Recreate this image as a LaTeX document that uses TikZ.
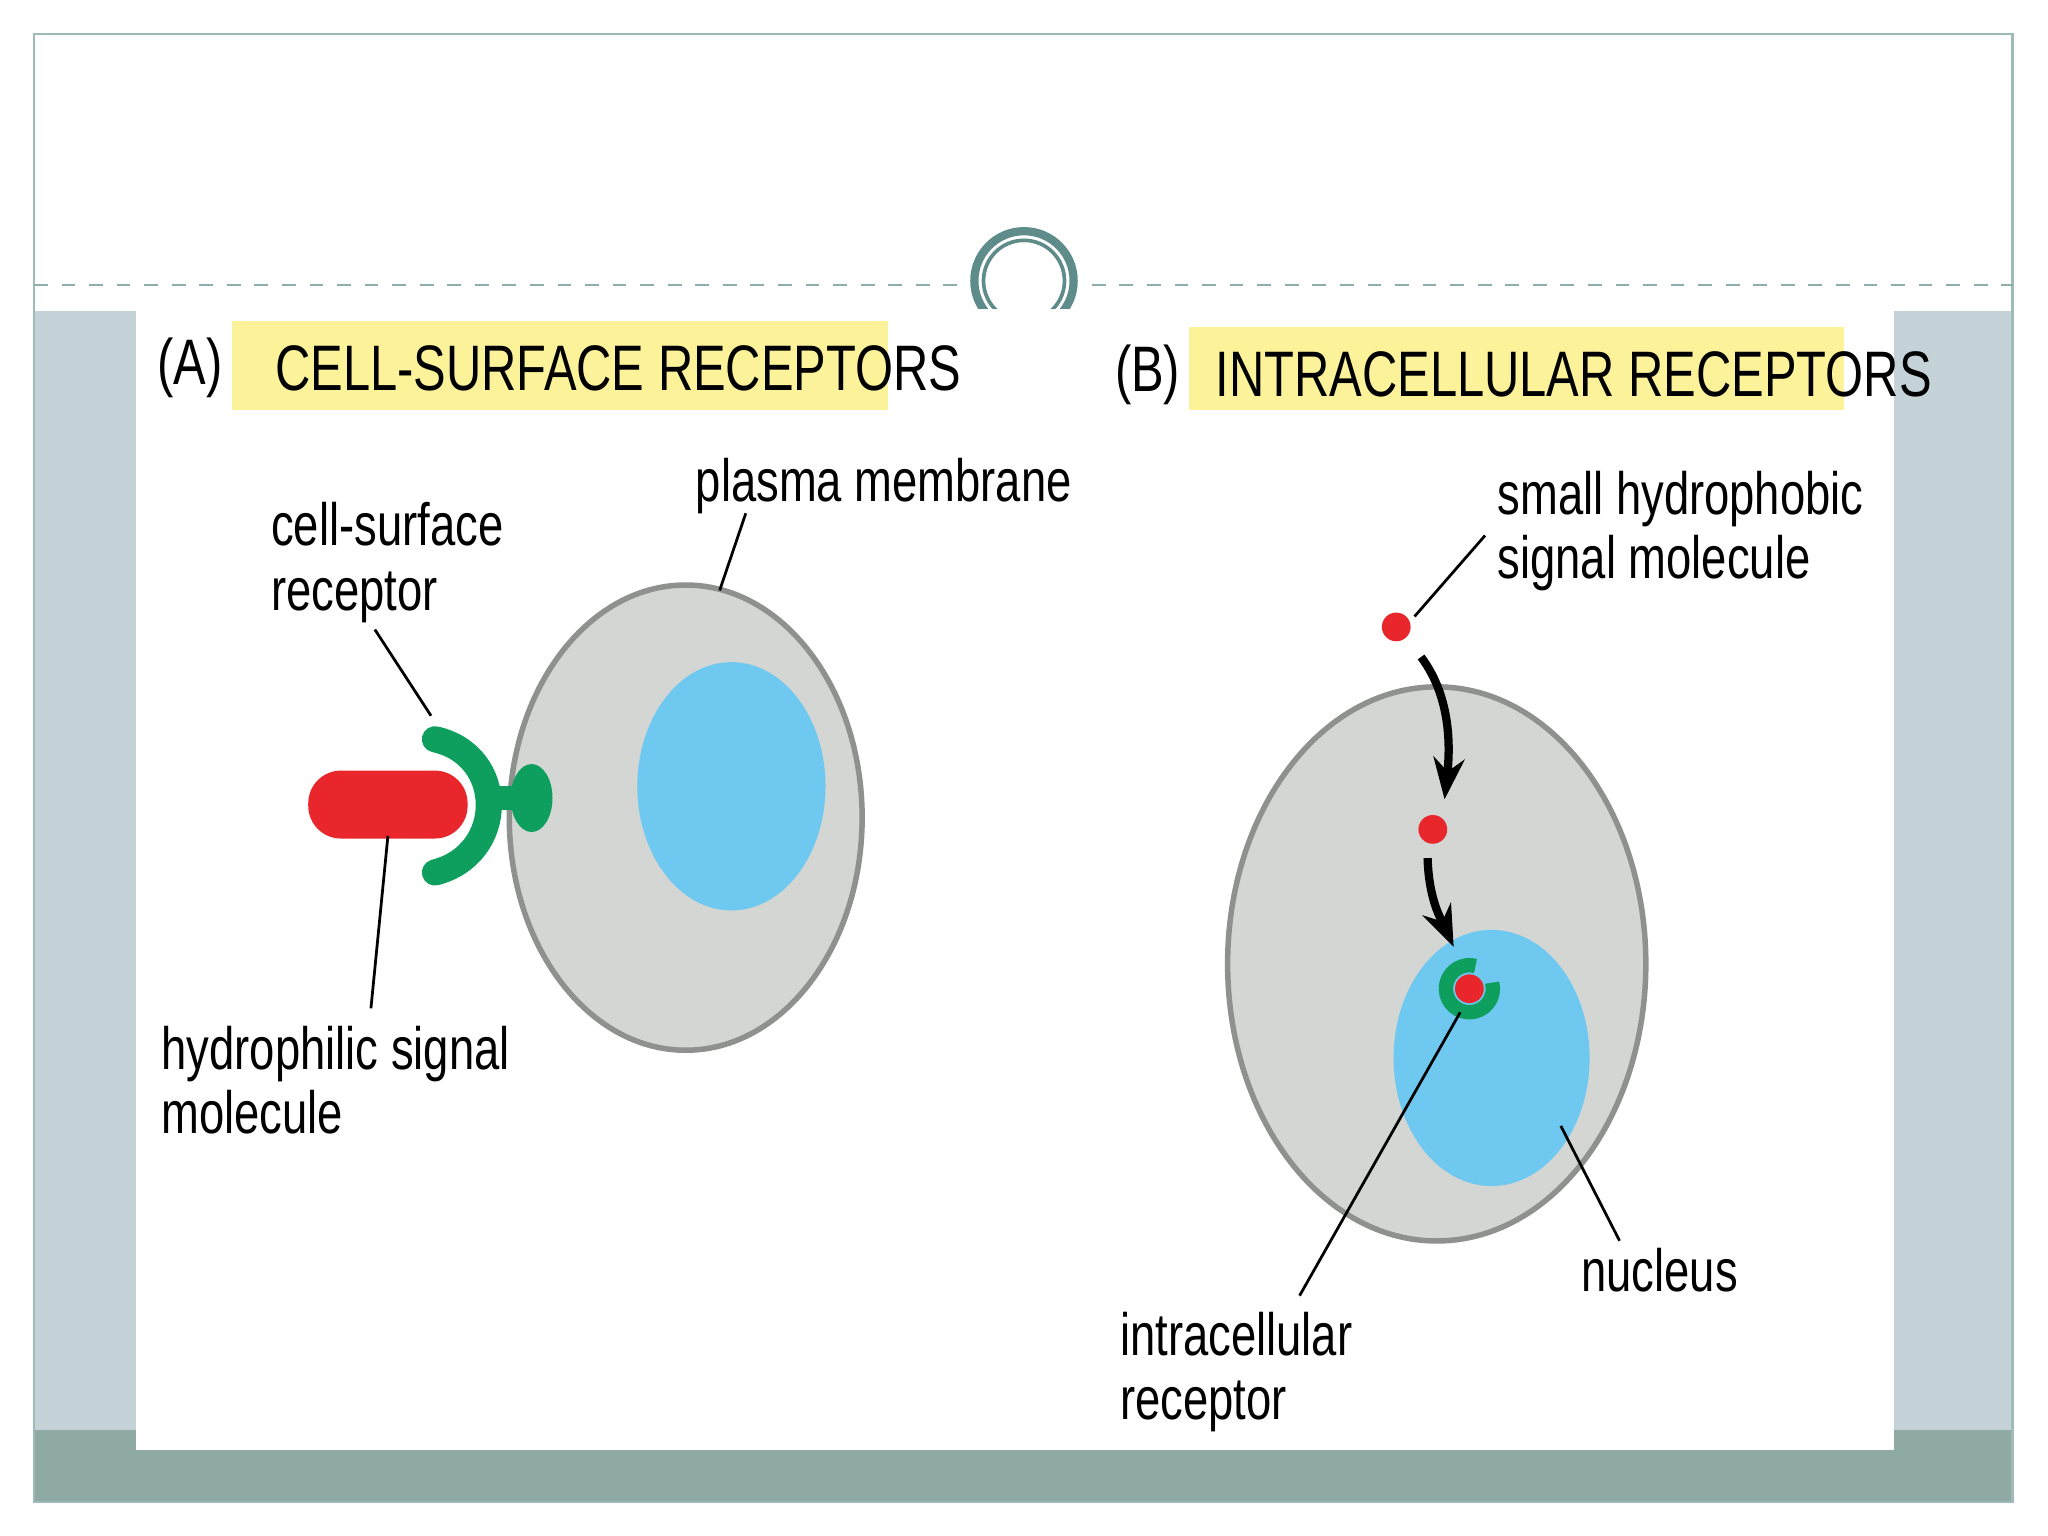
\documentclass[tikz,border=0pt]{standalone}
\usepackage{fontspec}
\setmainfont{Liberation Sans}[FakeStretch=0.76]
\usetikzlibrary{arrows.meta, positioning, shapes.geometric}
\definecolor{cellgray}{HTML}{D3D6D3}
\definecolor{cellrim}{HTML}{8E918E}
\definecolor{nucblue}{HTML}{6FC8F0}
\definecolor{sigred}{HTML}{E8262C}
\definecolor{recgreen}{HTML}{0E9F5E}
\definecolor{titleyellow}{HTML}{FBF29A}
\definecolor{slideband}{HTML}{C5D3D8}
\definecolor{slidefoot}{HTML}{8FAAA5}
\definecolor{slidering}{HTML}{5E8C8A}
\begin{document}
\begin{tikzpicture}[
        x=0.01cm, y=-0.01cm,
        lbl/.style={font=\fontsize{13}{14}\selectfont, align=left, inner sep=0pt, anchor=north west},
        ttl/.style={font=\fontsize{14}{15}\selectfont, inner sep=0pt, anchor=west},
        title/.style={fill=titleyellow, draw=none},
        leader/.style={black, line width=0.6pt},
        cell/.style={ellipse, draw=cellrim, line width=1.2pt, fill=cellgray},
        nucleus/.style={ellipse, fill=nucblue},
        signal/.style={circle, fill=sigred, minimum size=0.22cm, inner sep=0pt},
        arrow/.style={-{Stealth[length=9pt]}, line width=1.8pt}
    ]
        % slide background
        \useasboundingbox (0,0) rectangle (1568,1176);
        \fill[white] (0,0) rectangle (1568,1176);
        \fill[slideband] (26,238) rectangle (1541,1095);
        \fill[slidefoot] (26,1095) rectangle (1541,1150);
        \draw[slidering!60, line width=0.6pt] (26,26) rectangle (1541,1150);
        \draw[slidering!70, dashed, line width=0.5pt] (26,218) -- (735,218);
        \draw[slidering!70, dashed, line width=0.5pt] (836,218) -- (1541,218);
        \begin{scope}
            \clip (700,150) rectangle (870,236);
            \draw[slidering, line width=1.8pt, fill=white] (784,215) circle (38);
            \draw[slidering, line width=0.8pt] (784,215) circle (31);
        \end{scope}
        \fill[white] (104,238) rectangle (1450,1110);
        
        % titles
        \fill[title] (178,246) rectangle (680,314);
        \fill[title] (910,250) rectangle (1412,314);
        \node[ttl] (tagA) at (120,282) {(A)};
        \node[ttl] (titleA) at (210,282) {CELL-SURFACE RECEPTORS};
        \node[ttl] (tagB) at (853,287) {(B)};
        \node[ttl] (titleB) at (930,287) {INTRACELLULAR RECEPTORS};
        
        % cell A
        \node[cell, minimum width=2.7cm, minimum height=3.56cm] (cellA) at (525,626) {};
        \node[nucleus, minimum width=1.44cm, minimum height=1.9cm] (nucA) at (560,602) {};
        \fill[sigred, rounded corners=0.25cm] (236,590) rectangle (358,642);
        \draw[recgreen, line width=0.2cm, line cap=round] (333,566) .. controls (388,578) and (388,654) .. (333,668);
        \fill[recgreen] (378,602) rectangle (400,620);
        \node[ellipse, fill=recgreen, minimum width=0.32cm, minimum height=0.52cm, inner sep=0pt] (knob) at (407,611) {};
        
        % cell B
        \node[cell, minimum width=3.2cm, minimum height=4.24cm] (cellB) at (1100,738) {};
        \node[nucleus, minimum width=1.5cm, minimum height=1.96cm] (nucB) at (1142,810) {};
        \draw[recgreen, line width=0.11cm] (1125,757) ++(-15:18) arc (-15:285:18);
        \node[signal] (dotout) at (1069,480) {};
        \node[signal] (dotin) at (1097,635) {};
        \node[signal] (dotbound) at (1125,757) {};
        \draw[arrow] (1088,503) .. controls (1112,535) and (1110,575) .. (1106,612);
        \draw[arrow] (1093,657) .. controls (1094,690) and (1104,705) .. (1113,725);
        
        % labels
        \node[lbl] (lblplasma) at (532,350) {plasma membrane};
        \node[lbl] (lblcsr) at (207,384) {cell-surface\\receptor};
        \node[lbl] (lblhydrophilic) at (123,785) {hydrophilic signal\\molecule};
        \node[lbl] (lblsmall) at (1146,360) {small hydrophobic\\signal molecule};
        \node[lbl] (lblnucleus) at (1210,955) {nucleus};
        \node[lbl] (lblintra) at (857,1004) {intracellular\\receptor};
        
        % leader lines
        \coordinate (pmA) at (551,452);
        \coordinate (csrA) at (330,548);
        \coordinate (rodA) at (297,640);
        \coordinate (smallB) at (1083,472);
        \coordinate (nucBpt) at (1195,862);
        \coordinate (recB) at (1118,775);
        \draw[leader] (571,393) -- (pmA);
        \draw[leader] (287,482) -- (csrA);
        \draw[leader] (284,772) -- (rodA);
        \draw[leader] (1137,410) -- (smallB);
        \draw[leader] (1240,950) -- (nucBpt);
        \draw[leader] (995,992) -- (recB);
    \end{tikzpicture}
\end{document}
